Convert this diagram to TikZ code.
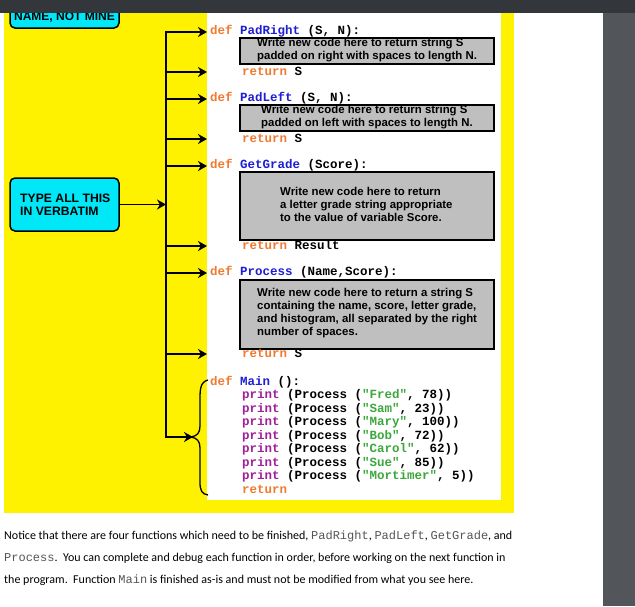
\documentclass[tikz,border=0pt]{standalone}
\usepackage{fontspec}
\setmainfont{Carlito}
\newfontfamily\codefont{Liberation Mono}
\newfontfamily\arialf{Liberation Sans}
\usetikzlibrary{arrows.meta}
\definecolor{kw}{HTML}{F07A30}
\definecolor{fn}{HTML}{1E1ED2}
\definecolor{pr}{HTML}{A0209A}
\definecolor{st}{HTML}{3CA83C}
\definecolor{cyanbox}{HTML}{00E8F8}
\definecolor{bar}{HTML}{33363A}
\definecolor{side}{HTML}{52565A}
\definecolor{grey}{HTML}{555555}
\newcommand{\K}[1]{\textcolor{kw}{#1}}
\newcommand{\F}[1]{\textcolor{fn}{#1}}
\newcommand{\PR}[1]{\textcolor{pr}{#1}}
\newcommand{\ST}[1]{\textcolor{st}{#1}}
\newcommand{\cc}[1]{{\codefont\textcolor{grey}{#1}}}
\tikzset{
 code/.style={anchor=base west,inner sep=0pt,font=\codefont\bfseries\fontsize{12.5}{13.5}\selectfont},
 graybox/.style={draw=black,line width=1.5pt,fill=black!25},
 graytext/.style={anchor=north west,inner sep=0pt,align=left,font=\arialf\bfseries\fontsize{11.4}{13}\selectfont},
 cyanb/.style={draw=black,line width=1.5pt,fill=cyanbox,rounded corners=5pt},
 arr/.style={line width=1.6pt,-{Stealth[length=9pt,width=10pt]}},
 ln/.style={line width=1.6pt},
 para/.style={anchor=base west,inner sep=0pt,font=\fontsize{12}{14}\selectfont},
}
\begin{document}
\begin{tikzpicture}[x=1pt,y=-1pt]
\useasboundingbox (0,0) rectangle (635,606);
\fill[white] (0,0) rectangle (635,606);
\fill[yellow] (4,13) rectangle (514,513);
\fill[white] (207,13) rectangle (501,500);
% cyan boxes
\draw[cyanb] (10,-6) rectangle (119,28);
\node[font=\arialf\bfseries\fontsize{12}{14}\selectfont,text=black] (topt) at (64.5,17) {NAME, NOT MINE};
\node[cyanb,minimum width=109pt,minimum height=53pt,inner sep=0pt] (type) at (64.5,204.5) {};
\node[graytext,font=\arialf\bfseries\fontsize{12.2}{13.5}\selectfont,anchor=west] (typet) at (20,204.5) {TYPE ALL THIS\\IN VERBATIM};
% gray boxes
\draw[graybox] (240,38) rectangle (494,64);
\node[graytext] (g1) at (257,38.5) {Write new code here to return string S\\padded on right with spaces to length N.};
\draw[graybox] (240,105) rectangle (494,131);
\node[graytext] (g2) at (261,105.5) {Write new code here to return string S\\padded on left with spaces to length N.};
\draw[graybox] (240,172) rectangle (494,240);
\node[graytext] (g3) at (280,187.5) {Write new code here to return\\a letter grade string appropriate\\to the value of variable Score.};
\draw[graybox] (240,280) rectangle (494,349);
\node[graytext] (g4) at (257,288.5) {Write new code here to return a string S\\containing the name, score, letter grade,\\and histogram, all separated by the right\\number of spaces.};
% code
\node[code] (c1) at (210,34.5) {\K{def} \F{PadRight} (S, N):};
\node[code] (c2) at (242,75) {\K{return} S};
\node[code] (c3) at (210,101.5) {\K{def} \F{PadLeft} (S, N):};
\node[code] (c4) at (242,142) {\K{return} S};
\node[code] (c5) at (210,168.5) {\K{def} \F{GetGrade} (Score):};
\node[code] (c6) at (242,249) {\K{return} Result};
\node[code] (c7) at (210,275.5) {\K{def} \F{Process} (Name,Score):};
\node[code] (c8) at (242,357) {\K{return} S};
\node[code] (m0) at (210,385) {\K{def} \F{Main} ():};
\node[code] (m1) at (242,398.5) {\PR{print} (Process (\ST{"Fred"}, 78))};
\node[code] (m2) at (242,412) {\PR{print} (Process (\ST{"Sam"}, 23))};
\node[code] (m3) at (242,425.5) {\PR{print} (Process (\ST{"Mary"}, 100))};
\node[code] (m4) at (242,439) {\PR{print} (Process (\ST{"Bob"}, 72))};
\node[code] (m5) at (242,452.5) {\PR{print} (Process (\ST{"Carol"}, 62))};
\node[code] (m6) at (242,466) {\PR{print} (Process (\ST{"Sue"}, 85))};
\node[code] (m7) at (242,479.5) {\PR{print} (Process (\ST{"Mortimer"}, 5))};
\node[code] (m8) at (242,493) {\K{return}};
% connectors
\coordinate (vt) at (166,32);
\coordinate (vb) at (166,437);
\coordinate (tip) at (193,437);
\draw[ln] (vt) -- (vb);
\draw[arr] (165.2,437) -- (tip);
\draw[arr] (type.east) -- (166,204.5);
\foreach \y in {32,72,99,139,166,246,273,354}{
 \draw[arr] (165.2,\y) -- (207,\y);
}
\draw[line width=1.3pt] (208,380) .. controls (200,382) and (200,390) .. (200,400) -- (200,426) .. controls (200,433) and (197,436) .. (191,437) .. controls (197,438) and (200,441) .. (200,448) -- (200,482) .. controls (200,491) and (202,494) .. (208,495);
% paragraph
\node[para] (p1) at (4,539) {Notice that there are four functions which need to be finished, \cc{PadRight}, \cc{PadLeft}, \cc{GetGrade}, and};
\node[para] (p2) at (4,561) {\cc{Process}.\ \ You can complete and debug each function in order, before working on the next function in};
\node[para] (p3) at (4,583) {the program.\ \ Function \cc{Main} is finished as-is and must not be modified from what you see here.};
% chrome
\fill[side] (603,13) rectangle (635,606);
\fill[bar] (0,0) rectangle (635,13);
\end{tikzpicture}
\end{document}
